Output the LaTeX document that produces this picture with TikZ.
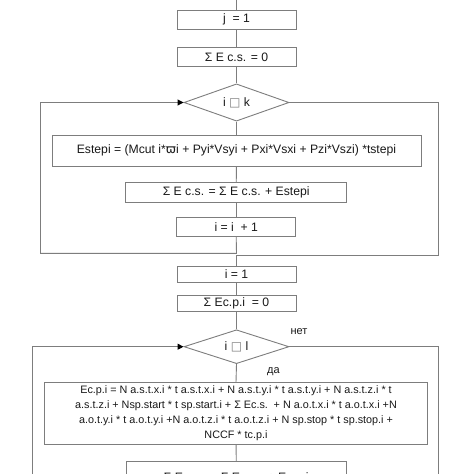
\documentclass[tikz,border=0pt]{standalone}
\usepackage{fontspec}
\setmainfont{Liberation Sans}
\newfontfamily\djv{DejaVu Sans}
\usetikzlibrary{shapes.geometric,arrows.meta}
\definecolor{lncol}{RGB}{125,125,125}
\definecolor{txcol}{RGB}{25,25,25}
\tikzset{
  flowbox/.style={draw=lncol, line width=0.9pt, rectangle, inner sep=0pt, text=txcol, font=\fontsize{12.2}{15}\selectfont, align=center},
  decide/.style={draw=lncol, line width=0.9pt, diamond, inner sep=0pt, minimum width=105pt, minimum height=34pt, text=txcol, font=\fontsize{12.2}{13}\selectfont},
  conn/.style={draw=lncol, line width=0.9pt},
  tipconn/.style={conn, -{Triangle[length=6pt,width=6pt,fill=black,color=black]}},
  lbl/.style={text=txcol, font=\fontsize{11}{12}\selectfont, inner sep=0pt}
}
\newcommand{\sqbox}{{\djv\color{lncol}\fontsize{12}{12}\selectfont □}}
\begin{document}
\begin{tikzpicture}[x=1pt,y=-1pt]
\useasboundingbox (0,0) rectangle (474,474);
\fill[white] (0,0) rectangle (474,474);

\coordinate (top) at (236.5,0);
\node[flowbox, minimum width=119pt, minimum height=19pt] (j1) at (236.5,19.5) {j \ = 1};
\node[flowbox, minimum width=119pt, minimum height=19pt] (s0) at (236.5,57) {Σ E c.s. = 0};
\node[decide] (d1) at (236.5,102.5) {i \sqbox\ k};
\node[flowbox, minimum width=369pt, minimum height=31pt] (est) at (236.5,150.5) {Estepi = (Mcut i*{\djv ϖ}i + Pyi*Vsyi + Pxi*Vsxi + Pzi*Vszi) *tstepi};
\node[flowbox, minimum width=221pt, minimum height=19.5pt] (sum1) at (236.2,192.3) {Σ E c.s. = Σ E c.s. + Estepi};
\node[flowbox, minimum width=119pt, minimum height=19pt] (inc) at (236.2,227.2) {i = i \ + 1};
\node[flowbox, minimum width=119pt, minimum height=16pt] (i1) at (236.5,274) {i = 1};
\node[flowbox, minimum width=119pt, minimum height=16.4pt] (sp0) at (236.5,303.5) {Σ Ec.p.i \ = 0};
\node[decide, minimum height=33pt] (d2) at (236.5,346.7) {i \sqbox\ l};
\node[flowbox, font=\fontsize{10.8}{15}\selectfont, minimum width=383.4pt, minimum height=61.3pt] (big) at (236,413.3) {Ec.p.i = N a.s.t.x.i * t a.s.t.x.i + N a.s.t.y.i * t a.s.t.y.i + N a.s.t.z.i * t\\
a.s.t.z.i + Nsp.start * t sp.start.i + Σ Ec.s. \,+ N a.o.t.x.i * t a.o.t.x.i +N\\
a.o.t.y.i * t a.o.t.y.i +N a.o.t.z.i * t a.o.t.z.i + N sp.stop * t sp.stop.i +\\
NCCF * tc.p.i};
\node[flowbox, minimum width=220.7pt, minimum height=30pt, anchor=north] (last) at (236.3,461) {};
\node[text=txcol, font=\fontsize{12.2}{13}\selectfont, inner sep=0pt, anchor=base] (lasttxt) at (236.3,481.5) {Σ Ec.p. \ = Σ Ec.p. \ + Ec.p.i};

\node[lbl] (net) at (299,332) {нет};
\node[lbl] (da) at (273.5,372) {да};

% connectors
\draw[conn] (top) -- (j1.north);
\draw[conn] (j1) -- (s0);
\draw[conn] (s0) -- (d1.north);
\draw[conn] (d1.south) -- (est.north);
\draw[conn] (est) -- (sum1);
\draw[conn] (sum1) -- (inc);
% left loop 1
\coordinate (l1a) at (236.5,253.3);
\coordinate (l1b) at (40.5,253.3);
\coordinate (l1c) at (40.5,102.5);
\draw[tipconn] (inc.south) -- (l1a) -- (l1b) -- (l1c) -- (d1.west);
% right exit 1
\coordinate (r1a) at (438.5,102.5);
\coordinate (r1b) at (438.5,255.8);
\coordinate (r1c) at (236.5,255.8);
\draw[conn] (d1.east) -- (r1a) -- (r1b) -- (r1c) -- (i1.north);
\draw[conn] (i1) -- (sp0);
\draw[conn] (sp0) -- (d2.north);
\draw[conn] (d2.south) -- (big.north);
\draw[conn] (big) -- (last);
% loop 2
\coordinate (l2a) at (32.7,480);
\coordinate (l2b) at (32.7,346.7);
\draw[tipconn] (l2a) -- (l2b) -- (d2.west);
\coordinate (r2a) at (438.5,346.7);
\coordinate (r2b) at (438.5,480);
\draw[conn] (d2.east) -- (r2a) -- (r2b);
\end{tikzpicture}
\end{document}
